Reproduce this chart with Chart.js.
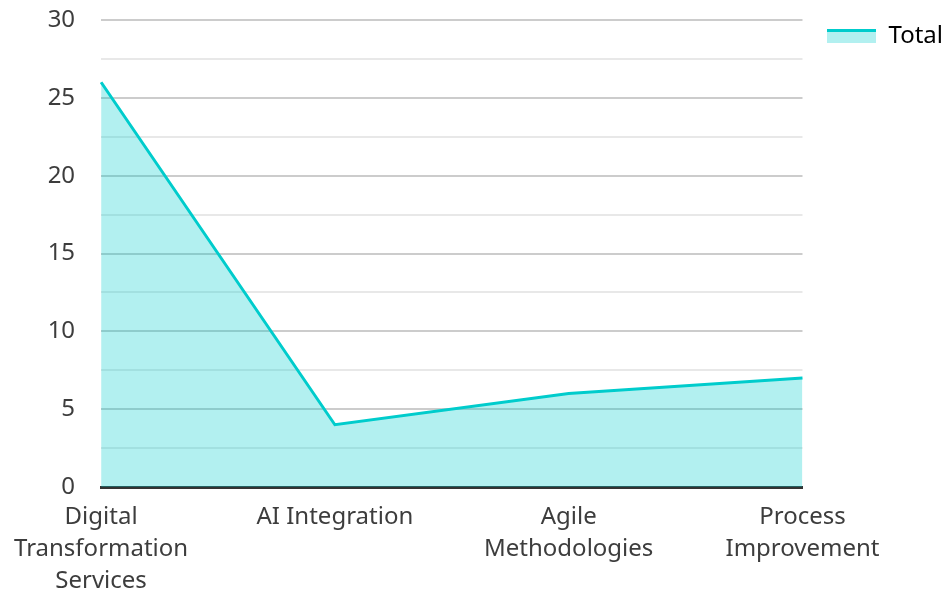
<!DOCTYPE html>
<html>
<head>
<meta charset="utf-8">
<script src="https://cdn.jsdelivr.net/npm/chart.js@4"></script>
<style>
  html, body { margin: 0; padding: 0; background: #fff; }
  #wrap { width: 943px; height: 590px; }
</style>
</head>
<body>
<div id="wrap"><canvas id="chart"></canvas></div>
<script>
const categories = [
  ["Digital", "Transformation", "Services"],
  "AI Integration",
  ["Agile", "Methodologies"],
  ["Process", "Improvement"]
];
const totals = [26, 4, 6, 7];
const seriesName = "Total";

const lineColor = "rgb(0,204,204)";
const fillColor = "rgba(0,204,204,0.3)";

// legend swatch: line on top, fill underneath
const swatch = document.createElement("canvas");
swatch.width = 49;
swatch.height = 14;
let sctx = swatch.getContext("2d");
sctx.fillStyle = fillColor;
sctx.fillRect(0, 0, 49, 14);
sctx.fillStyle = lineColor;
sctx.fillRect(0, 0, 49, 3);

Chart.defaults.font.family = "'Noto Sans', sans-serif";
Chart.defaults.color = "#3d3d3d";

let chart = new Chart(document.getElementById("chart"), {
  type: "line",
  data: {
    labels: categories,
    datasets: [{
      label: seriesName,
      data: totals,
      borderColor: lineColor,
      backgroundColor: fillColor,
      borderWidth: 3,
      fill: "origin",
      tension: 0,
      pointRadius: 0,
      pointHoverRadius: 0
    }]
  },
  options: {
    responsive: true,
    maintainAspectRatio: false,
    animation: false,
    layout: { padding: { left: 12, top: -1, right: -10, bottom: 0 } },
    plugins: {
      tooltip: { enabled: false },
      legend: {
        position: "right",
        align: "start",
        labels: {
          usePointStyle: true,
          pointStyle: swatch,
          pointStyleWidth: 49,
          boxHeight: 14,
          padding: 25,
          font: { size: 24 },
          generateLabels: (c) => [{
            text: seriesName,
            pointStyle: swatch,
            fillStyle: fillColor,
            strokeStyle: lineColor,
            lineWidth: 0,
            datasetIndex: 0
          }]
        }
      }
    },
    scales: {
      x: {
        grid: { display: false, drawTicks: false },
        border: { color: "#333", width: 3 },
        ticks: {
          padding: 14,
          maxRotation: 0,
          autoSkip: false,
          font: { size: 24, lineHeight: 1.33 }
        },
        afterFit: (s) => { s.height = 103; }
      },
      y: {
        min: 0,
        max: 30,
        border: { display: false },
        grid: {
          drawTicks: false,
          color: (ctx) => (ctx.tick.value % 5 === 0 ? "#cccccc" : "#e8e8e8"),
          lineWidth: 2
        },
        ticks: {
          stepSize: 2.5,
          padding: 26,
          font: { size: 24 },
          callback: (v) => (v % 5 === 0 ? v : "")
        },
        afterFit: (s) => { s.paddingTop = 20; s.paddingBottom = 0; }
      }
    }
  }
});
</script>
</body>
</html>
